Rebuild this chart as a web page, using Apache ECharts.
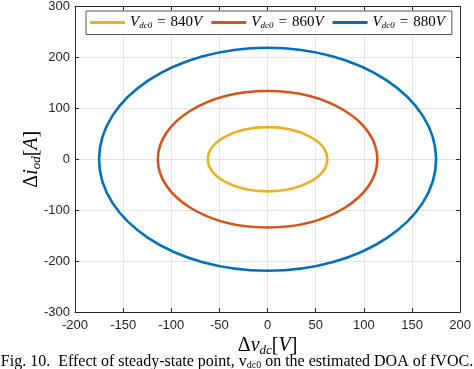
<!DOCTYPE html>
<html><head><meta charset="utf-8">
<script src="https://cdn.jsdelivr.net/npm/echarts@6/dist/echarts.min.js"></script>
<style>html,body{margin:0;padding:0;background:#fff}#c{width:474px;height:369px}</style>
</head><body><div id="c"></div>
<script>
// Series: name labels, colours, semi-axes (rx in V, ry in A)
const seriesNames = ['840', '860', '880'];
const seriesColors = ['#EDB120', '#D95319', '#0072BD'];
const centerX = [0, 0, 0];
const centerY = [0, 0, 0];
const radiusX = [62, 114, 175];
const radiusY = [63, 134, 219];
const xTicks = [-200, 200, 50];
const yTicks = [-300, 300, 100];
const captionParts = ['Fig. 10.  Effect of steady-state point, ', 'v', 'dc0', ' on the estimated DOA of fVOC.'];

const chart = echarts.init(document.getElementById('c'));
const serif = '"Liberation Serif","DejaVu Serif",serif';
const sans = '"Liberation Sans",Arial,sans-serif';
const axisColor = '#262626';

const series = seriesNames.map((n, i) => ({
  type: 'custom',
  name: n,
  xAxisIndex: 0, yAxisIndex: 0,
  data: [[centerX[i], centerY[i], radiusX[i], radiusY[i]]],
  itemStyle: { color: seriesColors[i] },
  renderItem: (params, api) => {
    const c = api.coord([api.value(0), api.value(1)]);
    const s = api.size([api.value(2), api.value(3)]);
    return {
      type: 'ellipse',
      shape: { cx: c[0], cy: c[1], rx: s[0], ry: s[1] },
      style: { fill: null, stroke: seriesColors[i], lineWidth: 2.6 }
    };
  }
}));

const richLegend = {
  i: { fontFamily: serif, fontStyle: 'italic', fontSize: 15, lineHeight: 16, color: '#000' },
  s: { fontFamily: serif, fontStyle: 'italic', fontSize: 9, lineHeight: 9, verticalAlign: 'bottom', color: '#000' },
  e: { fontFamily: serif, fontSize: 15, lineHeight: 16, color: '#000', padding: [0, 5, 0, 5] },
  n: { fontFamily: serif, fontSize: 15, lineHeight: 16, color: '#000' }
};
const richAxis = {
  a: { fontFamily: serif, fontSize: 20, lineHeight: 22, color: '#000' },
  i: { fontFamily: serif, fontStyle: 'italic', fontSize: 20, lineHeight: 22, color: '#000' },
  s: { fontFamily: serif, fontStyle: 'italic', fontSize: 13, lineHeight: 13, verticalAlign: 'bottom', color: '#000' }
};
const richCap = {
  t: { fontFamily: serif, fontSize: 16, lineHeight: 16, color: '#111' },
  v: { fontFamily: serif, fontSize: 16, lineHeight: 16, color: '#111' },
  s: { fontFamily: serif, fontSize: 10, lineHeight: 10, verticalAlign: 'bottom', color: '#111' }
};

const baseAxis = {
  axisLine: { show: true, onZero: false, lineStyle: { color: axisColor, width: 1 } },
  axisTick: { show: true, inside: true, length: 4, lineStyle: { color: axisColor } },
  axisLabel: { color: axisColor, fontFamily: sans, fontSize: 13 },
  splitLine: { show: true, lineStyle: { color: '#e3e3e3', width: 1 } }
};

chart.setOption({
  animation: false,
  backgroundColor: '#fff',
  grid: { left: 75, right: 8, top: 5, bottom: 57, containLabel: false },
  xAxis: [
    Object.assign({}, baseAxis, {
      type: 'value', min: xTicks[0], max: xTicks[1], interval: xTicks[2],
      position: 'bottom',
      axisLabel: Object.assign({}, baseAxis.axisLabel, { margin: 7 }),
      name: '{a|\u0394}{i|v}{s|dc}{a|[}{i|V}{a|]}',
      nameLocation: 'middle', nameGap: 23, nameMoveOverlap: false,
      nameTextStyle: { rich: richAxis }
    }),
    Object.assign({}, baseAxis, {
      type: 'value', min: xTicks[0], max: xTicks[1], interval: xTicks[2],
      position: 'top', axisLabel: { show: false }, splitLine: { show: false }
    })
  ],
  yAxis: [
    Object.assign({}, baseAxis, {
      type: 'value', min: yTicks[0], max: yTicks[1], interval: yTicks[2],
      position: 'left',
      axisLabel: Object.assign({}, baseAxis.axisLabel, { margin: 5 }),
      name: '{a|\u0394}{i|i}{s|od}{a|[}{i|A}{a|]}',
      nameLocation: 'middle', nameGap: 32, nameMoveOverlap: false,
      nameTextStyle: { rich: richAxis }
    }),
    Object.assign({}, baseAxis, {
      type: 'value', min: yTicks[0], max: yTicks[1], interval: yTicks[2],
      position: 'right', axisLabel: { show: false }, splitLine: { show: false }
    })
  ],
  legend: {
    left: 86, top: 11,
    orient: 'horizontal',
    backgroundColor: '#fff',
    borderColor: '#555', borderWidth: 1,
    padding: [4, 7, 4, 4],
    itemGap: 9,
    itemWidth: 35, itemHeight: 3,
    data: seriesNames.map((n, i) => ({ name: n, icon: 'rect', itemStyle: { color: seriesColors[i] } })),
    formatter: n => '{i|V}{s|dc0}{e|=}{n|' + n + '}{i|V}',
    textStyle: { rich: richLegend, padding: [0, 0, 0, 0] }
  },
  graphic: [{
    type: 'text', left: 'center', top: 354,
    style: {
      text: '{t|' + captionParts[0] + '}{v|' + captionParts[1] + '}{s|' + captionParts[2] + '}{t|' + captionParts[3] + '}',
      rich: richCap
    }
  }],
  series: series
});
</script></body></html>
